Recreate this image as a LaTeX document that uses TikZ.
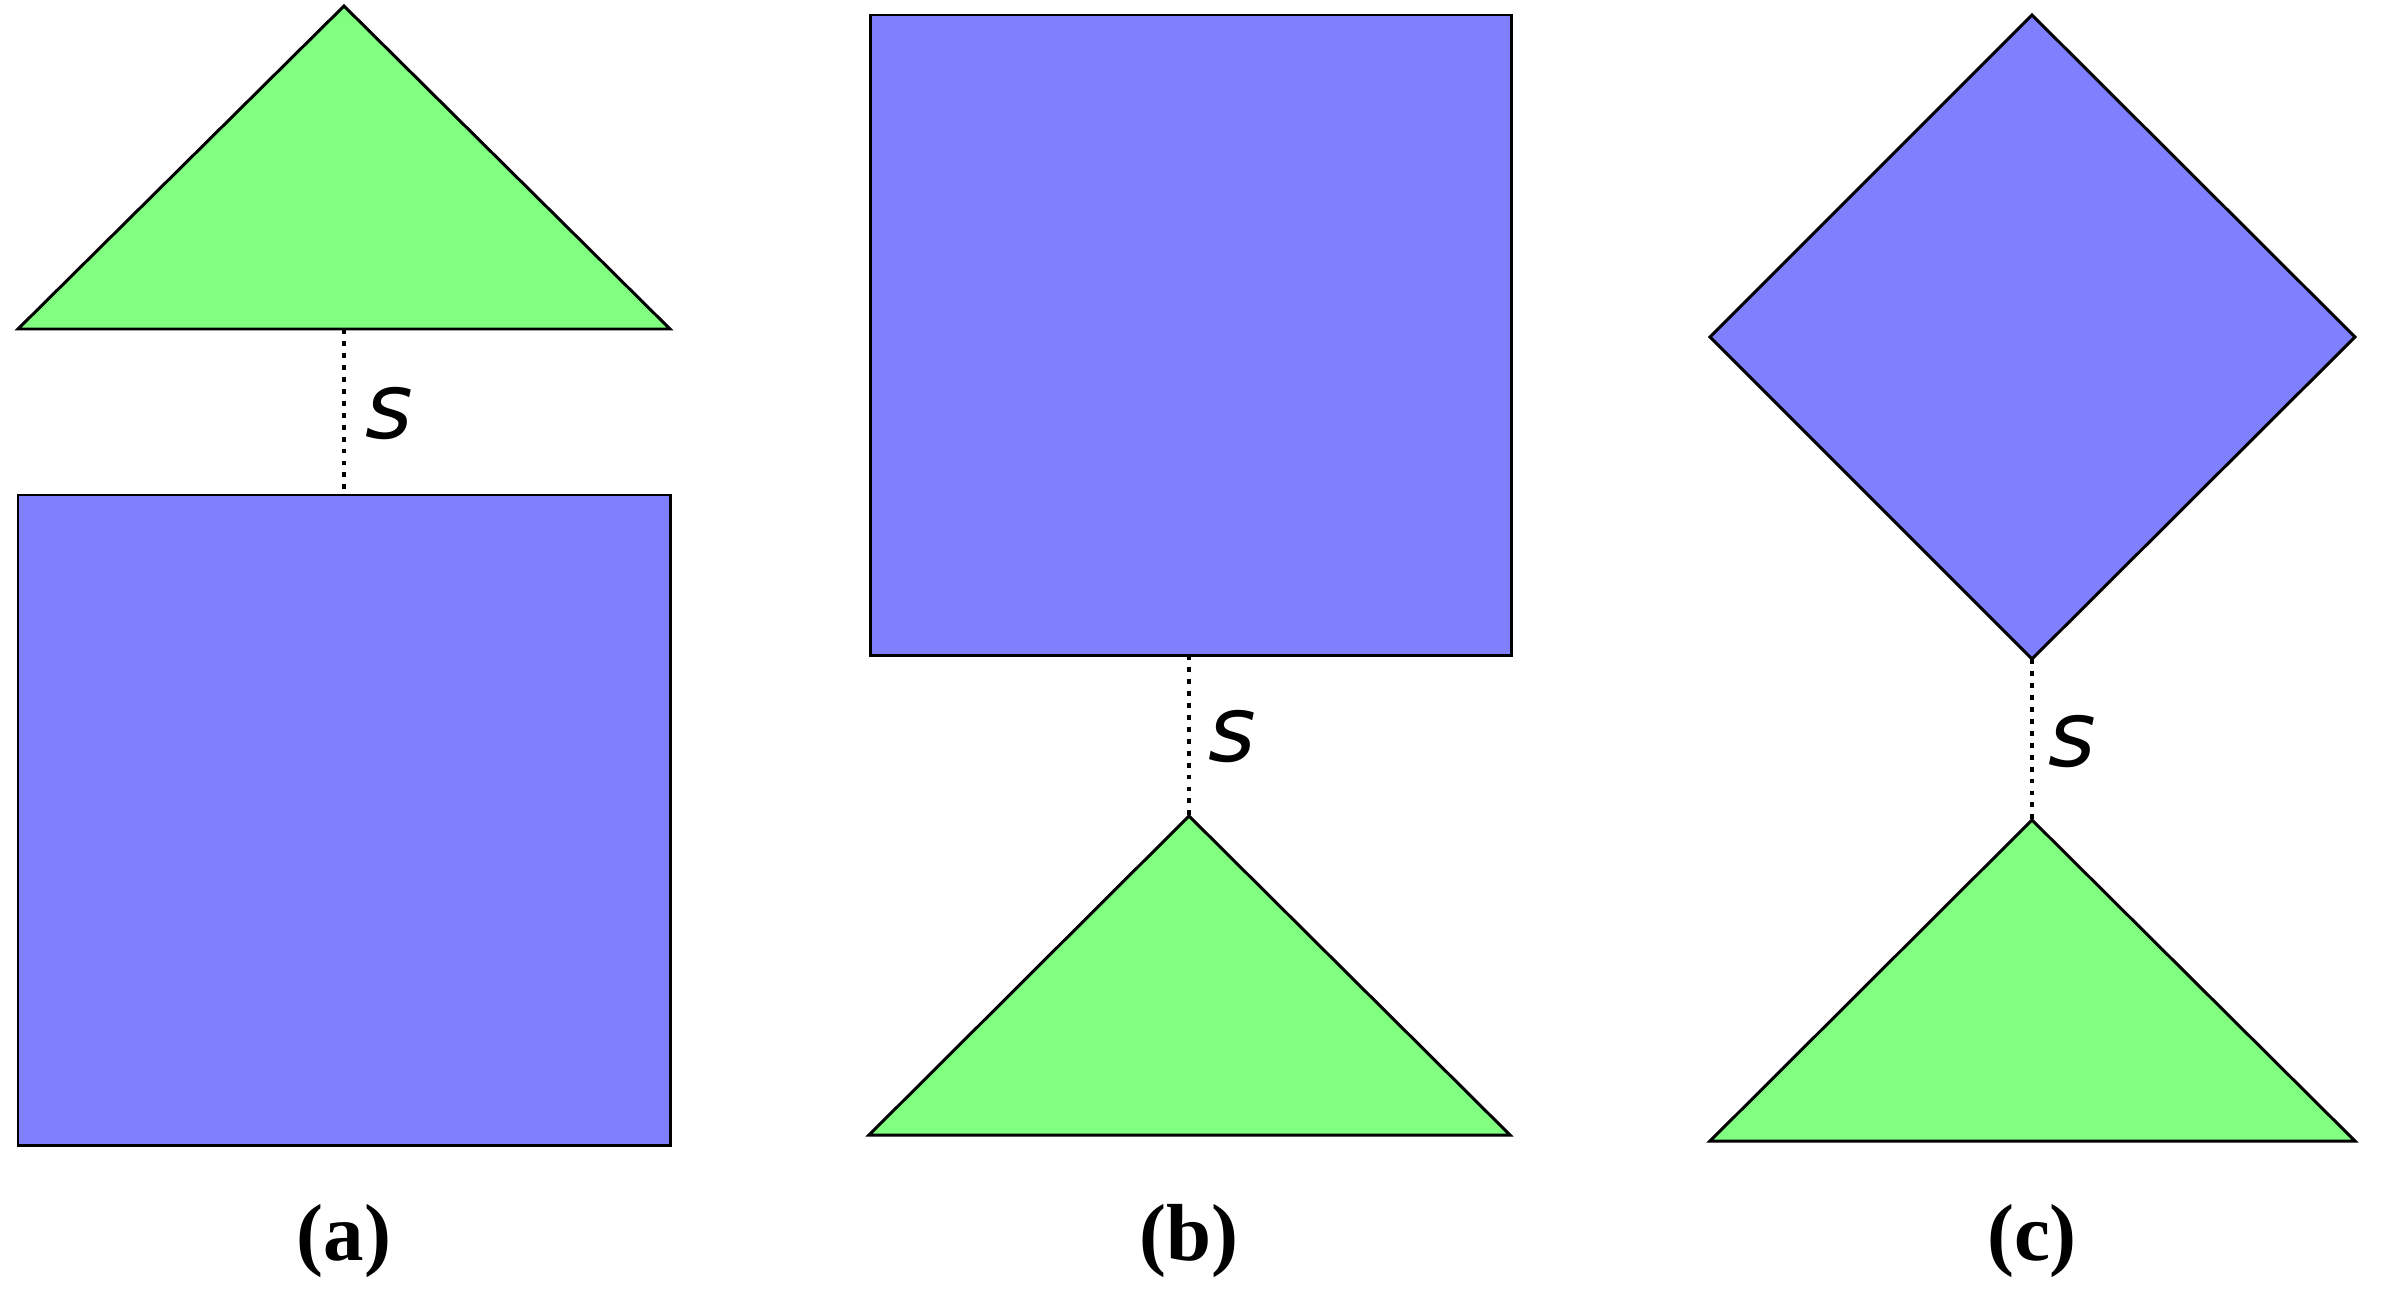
\documentclass[tikz,border=0pt]{standalone}
\usepackage{fontspec}
\newfontfamily\labelfont{DejaVu Sans}
\newfontfamily\capfont{Liberation Serif}
\usetikzlibrary{positioning}
\definecolor{tricol}{RGB}{128,255,128}
\definecolor{sqcol}{RGB}{128,128,255}
\tikzset{
	shapefill/.style={draw=black,line width=0.85pt,line join=miter},
	gapline/.style={line width=1.4pt,dotted},
	gaplabel/.style={font=\labelfont\itshape\fontsize{26}{28}\selectfont,inner sep=0pt},
	caption/.style={font=\capfont\bfseries\fontsize{23}{26}\selectfont,inner sep=0pt},
}
\begin{document}
\begin{tikzpicture}[x=0.01cm,y=-0.01cm]
	\useasboundingbox (0,0) rectangle (2388,1300);
	% (a): triangle above square
	\draw[shapefill,fill=tricol] (344,6) -- (670,329) -- (18,329) -- cycle;
	\draw[shapefill,fill=sqcol] (18,495) rectangle (670,1145);
	\coordinate (a top) at (344,329);
	\coordinate (a bot) at (344,495);
	\draw[gapline] (a top) -- (a bot);
	\node[gaplabel] (a s) at (389,414) {s};
	\node[caption] (a cap) at (344,1241) {(a)};
	% (b): square above triangle
	\draw[shapefill,fill=sqcol] (870,15) rectangle (1511,655);
	\draw[shapefill,fill=tricol] (1189,816) -- (1510,1135) -- (869,1135) -- cycle;
	\coordinate (b top) at (1189,655);
	\coordinate (b bot) at (1189,816);
	\draw[gapline] (b top) -- (b bot);
	\node[gaplabel] (b s) at (1232,737) {s};
	\node[caption] (b cap) at (1189,1241) {(b)};
	% (c): diamond above triangle
	\draw[shapefill,fill=sqcol] (2032,15) -- (2355,337) -- (2032,659) -- (1710,337) -- cycle;
	\draw[shapefill,fill=tricol] (2032,820) -- (2355,1141) -- (1710,1141) -- cycle;
	\coordinate (c top) at (2032,659);
	\coordinate (c bot) at (2032,820);
	\draw[gapline] (c top) -- (c bot);
	\node[gaplabel] (c s) at (2072,742) {s};
	\node[caption] (c cap) at (2032,1241) {(c)};
\end{tikzpicture}
\end{document}
